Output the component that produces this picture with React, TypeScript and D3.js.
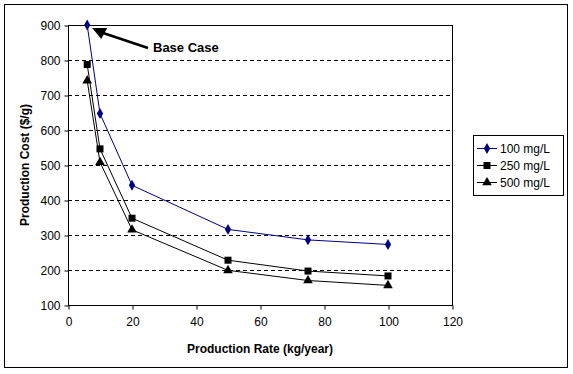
import React, { useEffect, useRef } from 'react';
import * as d3 from 'd3';

const rates = [6, 10, 20, 50, 75, 100];
const cost100 = [900, 647, 442, 316, 286, 273];
const cost250 = [787, 546, 348, 228, 197, 183];
const cost500 = [741, 508, 315, 199, 170, 156];
const seriesNames = ['100 mg/L', '250 mg/L', '500 mg/L'];
const xTicks = [0, 20, 40, 60, 80, 100, 120];
const yTicks = [100, 200, 300, 400, 500, 600, 700, 800, 900];

export default function App() {
  const svgRef = useRef<SVGSVGElement>(null);

  useEffect(() => {
    document.body.style.margin = '0';
    if (!svgRef.current) return;
    const svg = d3.select(svgRef.current);
    svg.selectAll('*').remove();

    const font = 'Arial, "Liberation Sans", sans-serif';
    const plot = { left: 68, right: 452, top: 25, bottom: 305 };

    const x = d3.scaleLinear().domain([0, 120]).range([plot.left, plot.right]);
    const y = d3.scaleLinear().domain([100, 900]).range([plot.bottom, plot.top]);

    // outer frame
    svg.append('rect')
      .attr('x', 4.5).attr('y', 4.5).attr('width', 563).attr('height', 363)
      .attr('fill', '#fff').attr('stroke', '#000').attr('stroke-width', 1);

    // grid
    svg.append('g').selectAll('line')
      .data(yTicks.filter(t => t > 100 && t < 900))
      .join('line')
      .attr('x1', plot.left).attr('x2', plot.right)
      .attr('y1', d => Math.round(y(d)) + 0.5).attr('y2', d => Math.round(y(d)) + 0.5)
      .attr('stroke', '#000').attr('stroke-dasharray', '4,3');

    // plot frame
    svg.append('rect')
      .attr('x', plot.left + 0.5).attr('y', plot.top + 0.5)
      .attr('width', plot.right - plot.left).attr('height', plot.bottom - plot.top)
      .attr('fill', 'none').attr('stroke', '#000');

    // axes
    const xAxis = svg.append('g')
      .attr('transform', `translate(0.5,${plot.bottom + 0.5})`)
      .call(d3.axisBottom(x).tickValues(xTicks).tickSize(4).tickPadding(8));
    const yAxis = svg.append('g')
      .attr('transform', `translate(${plot.left + 0.5},0.5)`)
      .call(d3.axisLeft(y).tickValues(yTicks).tickSize(4).tickPadding(4));
    [xAxis, yAxis].forEach(a => {
      a.select('.domain').remove();
      a.selectAll('line').attr('stroke', '#000');
      a.selectAll('text').attr('font-family', font).attr('font-size', 12).attr('fill', '#000');
    });

    const line = d3.line<[number, number]>().x(d => x(d[0])).y(d => y(d[1]));
    const series = [
      { name: seriesNames[0], vals: cost100, color: '#000080', shape: 'diamond' },
      { name: seriesNames[1], vals: cost250, color: '#000', shape: 'square' },
      { name: seriesNames[2], vals: cost500, color: '#000', shape: 'triangle' },
    ];
    const symbolFor = (s: string) =>
      s === 'diamond' ? d3.symbol(d3.symbolDiamond, 34)
        : s === 'square' ? d3.symbol(d3.symbolSquare, 49)
          : d3.symbol(d3.symbolTriangle, 40);

    series.forEach(s => {
      const pts = rates.map((r, i) => [r, s.vals[i]] as [number, number]);
      svg.append('path').datum(pts)
        .attr('fill', 'none').attr('stroke', s.color).attr('stroke-width', 1)
        .attr('d', line);
      svg.append('g').selectAll('path').data(pts).join('path')
        .attr('transform', d => `translate(${x(d[0])},${y(d[1])})`)
        .attr('d', symbolFor(s.shape)() as string)
        .attr('fill', s.color);
    });

    // annotation arrow
    svg.append('line')
      .attr('x1', 148).attr('y1', 48).attr('x2', x(6) + 10).attr('y2', y(900) + 6)
      .attr('stroke', '#000').attr('stroke-width', 2.5);
    svg.append('path')
      .attr('d', `M${x(6) + 5},${y(900) + 3} L${x(6) + 20},${y(900) + 3} L${x(6) + 14},${y(900) + 14} Z`)
      .attr('fill', '#000');
    svg.append('text')
      .attr('x', 153).attr('y', 52).text('Base Case')
      .attr('font-family', font).attr('font-size', 13).attr('font-weight', 'bold');

    // titles
    svg.append('text')
      .attr('x', (plot.left + plot.right) / 2).attr('y', 353)
      .attr('text-anchor', 'middle').text('Production Rate (kg/year)')
      .attr('font-family', font).attr('font-size', 12).attr('font-weight', 'bold');
    svg.append('text')
      .attr('transform', `translate(29,${(plot.top + plot.bottom) / 2}) rotate(-90)`)
      .attr('text-anchor', 'middle').text('Production Cost ($/g)')
      .attr('font-family', font).attr('font-size', 12).attr('font-weight', 'bold');

    // legend
    const lg = svg.append('g');
    lg.append('rect')
      .attr('x', 473.5).attr('y', 135.5).attr('width', 90).attr('height', 60)
      .attr('fill', '#fff').attr('stroke', '#000');
    series.forEach((s, i) => {
      const ly = 148 + i * 17;
      lg.append('line').attr('x1', 477).attr('x2', 497).attr('y1', ly + 0.5).attr('y2', ly + 0.5)
        .attr('stroke', s.color);
      lg.append('path').attr('transform', `translate(487,${ly + 0.5})`)
        .attr('d', symbolFor(s.shape)() as string).attr('fill', s.color);
      lg.append('text').attr('x', 500).attr('y', ly + 4.5).text(s.name)
        .attr('font-family', font).attr('font-size', 12);
    });
  }, []);

  return <svg ref={svgRef} width={573} height={374} style={{ display: 'block' }} />;
}
